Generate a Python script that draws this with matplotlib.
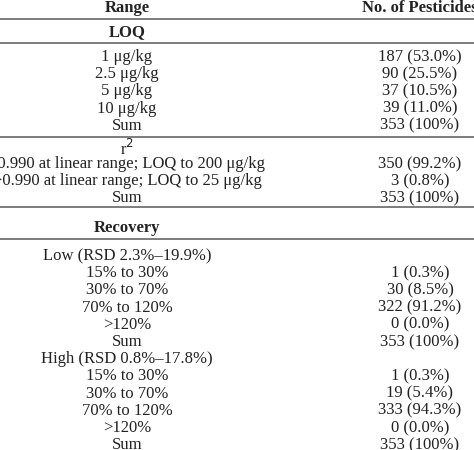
import matplotlib
matplotlib.use("Agg")
import matplotlib.pyplot as plt

W, H = 474, 450

header = ["Range", "No. of Pesticides"]

loq_ranges = ["1 μg/kg", "2.5 μg/kg", "5 μg/kg", "10 μg/kg", "Sum"]
loq_counts = ["187 (53.0%)", "90 (25.5%)", "37 (10.5%)", "39 (11.0%)", "353 (100%)"]

r2_ranges = [">0.990 at linear range; LOQ to 200 μg/kg",
             ">0.990 at linear range; LOQ to 25 μg/kg", "Sum"]
r2_counts = ["350 (99.2%)", "3 (0.8%)", "353 (100%)"]

rec_ranges = ["Low (RSD 2.3%–19.9%)", "15% to 30%", "30% to 70%", "70% to 120%", ">120%", "Sum",
              "High (RSD 0.8%–17.8%)", "15% to 30%", "30% to 70%", "70% to 120%", ">120%", "Sum"]
rec_counts = ["", "1 (0.3%)", "30 (8.5%)", "322 (91.2%)", "0 (0.0%)", "353 (100%)",
              "", "1 (0.3%)", "19 (5.4%)", "333 (94.3%)", "0 (0.0%)", "353 (100%)"]

fig = plt.figure(figsize=(W / 100, H / 100), dpi=100)
plt.rcParams["font.family"] = ["Liberation Serif", "DejaVu Serif"]
FS = 12
LX, RX = 127, 420
STEP = 17.2


def txt(x, y, s, bold=False, ha="center"):
    fig.text(x / W, 1 - y / H, s, ha=ha, va="center", fontsize=FS,
             fontweight="bold" if bold else "normal", color="#222222")


def hline(y):
    fig.add_artist(plt.Line2D([0, 1], [1 - y / H, 1 - y / H], color="#666666", lw=1.2))


txt(LX, 8, header[0], bold=True)
txt(RX, 8, header[1], bold=True)
hline(19)
txt(LX, 32, "LOQ", bold=True)
hline(43)
for i, (a, b) in enumerate(zip(loq_ranges, loq_counts)):
    y = 57 + i * STEP
    txt(LX, y, a)
    txt(RX, y, b)
hline(137)
txt(LX, 149, "r$^2$")
for i, (a, b) in enumerate(zip(r2_ranges, r2_counts)):
    y = 164 + i * STEP
    txt(LX, y, a)
    txt(RX, y, b)
hline(207)
txt(LX, 228, "Recovery", bold=True)
hline(239)
for i, (a, b) in enumerate(zip(rec_ranges, rec_counts)):
    y = 256 + i * STEP
    txt(LX, y, a)
    if b:
        txt(RX, y, b)

fig.savefig("out.png", dpi=100)
